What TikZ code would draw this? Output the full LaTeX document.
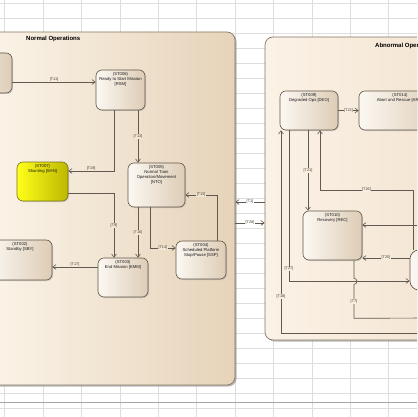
\documentclass[tikz,border=0pt]{standalone}
\usepackage{fontspec}
\setmainfont{Liberation Sans}
\usetikzlibrary{arrows.meta, shadows}

\definecolor{gridgray}{HTML}{DEDEDE}
\definecolor{normleft}{HTML}{FCF5EA}
\definecolor{normright}{HTML}{E6D3B9}
\definecolor{ableft}{HTML}{FBF2E6}
\definecolor{abright}{HTML}{EEDCC6}
\definecolor{framedraw}{HTML}{857766}
\definecolor{stleft}{HTML}{FCF8F2}
\definecolor{stright}{HTML}{DDCCB6}
\definecolor{stdraw}{HTML}{625646}
\definecolor{shnleft}{HTML}{FFFF1A}
\definecolor{shnright}{HTML}{BDB800}
\definecolor{shndraw}{HTML}{75721A}
\definecolor{linecol}{HTML}{625a50}
\definecolor{lblcol}{HTML}{3F382F}
\definecolor{lblnorm}{HTML}{F2E5D2}
\definecolor{lblab}{HTML}{F8EEE0}

\begin{document}
\begin{tikzpicture}[
      x=1pt, y=-1pt,
      >={Straight Barb[length=3.2pt,width=4.8pt]},
      framebox/.style={draw=framedraw, line width=0.7pt, rounded corners=8pt,
        drop shadow={shadow xshift=1.5pt, shadow yshift=-1.5pt, fill=black!45, opacity=0.6}},
      stbox/.style={draw=stdraw, line width=0.65pt, rounded corners=6pt, left color=stleft, right color=stright,
        drop shadow={shadow xshift=1pt, shadow yshift=-1pt, fill=black!35, opacity=0.5}},
      shnbox/.style={stbox, draw=shndraw, left color=shnleft, right color=shnright},
      sttext/.style={anchor=north, align=center, inner sep=3pt, text=black!90, font=\fontsize{4.2}{5}\selectfont},
      tr/.style={->, draw=linecol, line width=0.65pt},
      lbl/.style={font=\fontsize{3.8}{4}\selectfont, text=lblcol, inner sep=0.6pt, fill=lblnorm},
      title/.style={anchor=north west, font=\bfseries\fontsize{6}{7}\selectfont},
  ]

  \useasboundingbox (0,0) rectangle (417,417);
  \clip (0,0) rectangle (417,417);
  \fill[white] (0,0) rectangle (417,417);

  % sheet grid
  \foreach \i in {0,...,10}
    \draw[gridgray, line width=0.45pt] ({4.6+38.4*\i},0) -- ++(0,417);
  \foreach \j in {0,...,27}
    \draw[gridgray, line width=0.45pt] (0,{3+15*\j}) -- ++(417,0);
  \draw[black!35, line width=0.8pt] (0,402) -- (417,402);

  % --- Frames ---
  \node[framebox, left color=normleft, right color=normright, minimum width=255pt, minimum height=353pt] (normal) at (107.5,208.5) {};
  \node[title] (normtitle) at ([xshift=43pt, yshift=-1pt]normal.north west) {Normal Operations};

  \node[framebox, left color=ableft, right color=abright, minimum width=295pt, minimum height=303pt] (abnormal) at (412.5,188.5) {};
  \node[title] (abtitle) at ([xshift=107pt, yshift=-3pt]abnormal.north west) {Abnormal Operations};

  % --- Normal states ---
  \node[stbox, minimum width=52pt, minimum height=40pt] (left) at (-14,73) {};
  \node[stbox, minimum width=49pt, minimum height=40pt,
        label={[sttext]north:{(ST006)\\Ready to Start Mission\\{[RSM]}}}] (rsm) at (120.5,90) {};
  \node[shnbox, minimum width=51pt, minimum height=39pt,
        label={[sttext]north:{(ST007)\\Shunting [SHN]}}] (shn) at (42.5,181.5) {};
  \node[stbox, minimum width=57pt, minimum height=44pt,
        label={[sttext]north:{(ST005)\\Normal Train\\Operation/Movement\\{[NTO]}}}] (nto) at (156.5,185) {};
  \node[stbox, minimum width=50pt, minimum height=38pt,
        label={[sttext]north:{(ST004)\\Scheduled Platform\\Stop/Pause [SSP]}}] (ssp) at (201,260) {};
  \node[stbox, minimum width=50pt, minimum height=39pt,
        label={[sttext]north:{(ST003)\\End Mission [EMM]}}] (emm) at (123,277.5) {};
  \node[stbox, minimum width=64pt, minimum height=40pt,
        label={[sttext]north:{(ST002)\\Standby [SBY]}}] (sby) at (20,260) {};

  % --- Abnormal states ---
  \node[stbox, minimum width=58pt, minimum height=39pt,
        label={[sttext]north:{(ST009)\\Degraded Ops [DEO]}}] (deo) at (309,110.5) {};
  \node[stbox, minimum width=82pt, minimum height=39pt,
        label={[sttext]north:{(ST014)\\Abort and Rescue [ARM]}}] (arm) at (400,110.5) {};
  \node[stbox, minimum width=59pt, minimum height=49pt,
        label={[sttext]north:{(ST010)\\Recovery [REC]}}] (rec) at (332.5,235.5) {};
  \node[stbox, rounded corners=9pt, minimum width=80pt, minimum height=40pt] (rbox) at (450,270) {};

  % free ends beyond the sheet edge
  \coordinate (t18) at (430,333);
  \coordinate (t7) at (430,318);
  \coordinate (t26) at (320,190);
  \coordinate (trec) at (430,225);

  % --- Normal transitions ---
  \draw[tr] ([yshift=-9pt]left.east) -- ([yshift=-9pt]left.east -| rsm.west) node[lbl, midway, above, fill=none] {[T11]};
  \draw[tr] ([xshift=-6.5pt]rsm.south) |- ([yshift=10.5pt]shn.east) node[lbl, pos=0.75, above, fill=none] {[T19]};
  \draw[tr] ([xshift=17.5pt]rsm.south) -- ([xshift=17.5pt]rsm.south |- nto.north) node[lbl, midway] {[T13]};
  \draw[tr] ([yshift=-11.5pt]shn.east) -| ([xshift=-9pt]emm.north) node[lbl, pos=0.75] {[T9]};
  \draw[tr] ([xshift=-18.5pt]nto.south) -- ([xshift=-18.5pt]nto.south |- emm.north) node[lbl, midway] {[T16]};
  \draw[tr] ([xshift=-6.5pt]nto.south) |- ([yshift=12pt]ssp.west) node[lbl, pos=0.75] {[T14]};
  \draw[tr] ([xshift=16pt]ssp.north) |- ([yshift=-10pt]nto.east) node[lbl, pos=0.75] {[T15]};
  \draw[tr] ([yshift=10.5pt]emm.west) -- ([yshift=10.5pt]emm.west -| sby.east) node[lbl, midway, above, fill=none] {[T17]};

  % --- Between frames ---
  \draw[tr] ([yshift=-13.5pt]abnormal.west) -- ([yshift=-13.5pt]abnormal.west -| normal.east) node[lbl, midway, fill=white] {[T1]};
  \draw[tr] ([yshift=-34.5pt]abnormal.west -| normal.east) -- ([yshift=-34.5pt]abnormal.west) node[lbl, midway, fill=white] {[T28]};

  % --- Abnormal transitions ---
  \draw[tr] (deo) -- (arm) node[lbl, midway, fill=lblab] {[T22]};
  \draw[tr] (t18) -| ([xshift=-28pt]deo.south) node[lbl, pos=0.59, fill=lblab] {[T18]};
  \draw[tr] ([xshift=-20pt]deo.south) |- ([yshift=-11pt]rbox.west) node[lbl, pos=0.46, fill=lblab] {[T27]};
  \draw[tr] ([xshift=-1pt]deo.south) -- ([xshift=-1pt]deo.south |- rec.north) node[lbl, midway, fill=lblab] {[T21]};
  \draw[tr] ([xshift=-37pt]rbox.north) |- node[lbl, pos=0.75, fill=lblab] {[T26]} (t26) -- ([xshift=11pt]deo.south);
  \draw[tr] (trec) -- (trec -| rec.east);
  \draw[tr] ([yshift=12pt]rbox.west) -- ([yshift=12pt]rbox.west -| rec.east) node[lbl, midway, fill=lblab] {[T25]};
  \draw[tr] ([xshift=21.5pt]rec.south) -- ++(0,18) arc[start angle=90, end angle=-90, radius=3pt]
        -- node[lbl, fill=lblab] {[T7]} ++(0,34) -- (t7);

  \end{tikzpicture}
\end{document}
